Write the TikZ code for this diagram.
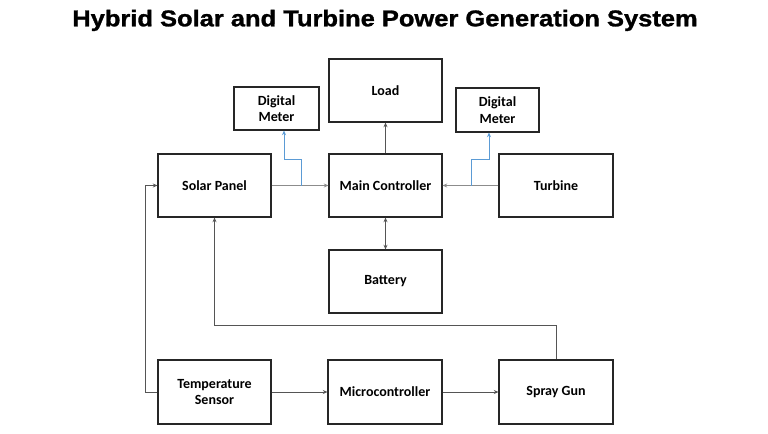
\documentclass[tikz,border=0pt]{standalone}
\usepackage{fontspec}
\setmainfont{Carlito}
\newfontfamily\titlefont[FakeBold=1.2]{Liberation Sans}
\usetikzlibrary{arrows.meta}
\definecolor{linegray}{HTML}{555555}
\definecolor{lightline}{HTML}{8C8C8C}
\definecolor{meterblue}{HTML}{5B9BD5}
\tikzset{
  box/.style={draw=black!85, line width=0.8pt, minimum width=84.75pt, minimum height=47.25pt,
    inner sep=0pt, align=center, font=\fontsize{10.5}{12.5}\selectfont\bfseries},
  conn/.style={draw=linegray, line width=0.7pt, -{Stealth[length=3.5pt,width=3pt]}},
  lconn/.style={conn, draw=lightline},
  blueline/.style={draw=meterblue, line width=0.7pt, -{Stealth[length=3.5pt,width=3pt]}},
}
\begin{document}
\begin{tikzpicture}[x=0.75pt,y=-0.75pt]
\useasboundingbox (0,0) rectangle (768,433);
\node[anchor=base, inner sep=0pt] (title) at (385,26.3) {\resizebox{469pt}{12.4pt}{\titlefont\bfseries Hybrid Solar and Turbine Power Generation System}};
\node[box] (load) at (385.5,90.5) {Load};
\node[box, minimum width=63.75pt, minimum height=32.25pt] (dm1) at (276.5,108.5) {Digital\\Meter};
\node[box, minimum width=62.25pt, minimum height=33pt] (dm2) at (497.5,110) {Digital\\Meter};
\node[box] (solar) at (214.5,185.5) {Solar Panel};
\node[box] (main) at (385.5,185.5) {Main Controller};
\node[box, minimum width=85.5pt] (turbine) at (556,185.5) {Turbine};
\node[box] (battery) at (385.5,281.5) {Battery};
\node[box, minimum height=48pt] (temp) at (214.5,392) {Temperature\\Sensor};
\node[box, minimum width=85.5pt, minimum height=48pt] (micro) at (385,392) {Microcontroller};
\node[box, minimum width=85.5pt, minimum height=48pt] (spray) at (556,392) {Spray Gun};

\draw[lconn] (solar.east) -- (main.west);
\draw[lconn] (turbine.west) -- (main.east);
\coordinate (j1) at (301,185.5);
\coordinate (k1) at (284,159);
\draw[blueline] (j1) |- (k1) -- (k1 |- dm1.south);
\coordinate (j2) at (471,185.5);
\coordinate (k2) at (489,159);
\draw[blueline] (j2) |- (k2) -- (k2 |- dm2.south);
\draw[conn] (main.north) -- (load.south);
\draw[conn, {Stealth[length=3.5pt,width=3pt]}-{Stealth[length=3.5pt,width=3pt]}] (main.south) -- (battery.north);
\coordinate (s1) at (557,325);
\draw[conn] (spray.north) -- (spray.north |- s1) -| (solar.south);
\coordinate (t1) at (145,392);
\draw[conn] (temp.west) -- (t1) |- (solar.west);
\draw[conn] (temp.east) -- (micro.west);
\draw[conn] (micro.east) -- (spray.west);
\end{tikzpicture}
\end{document}
